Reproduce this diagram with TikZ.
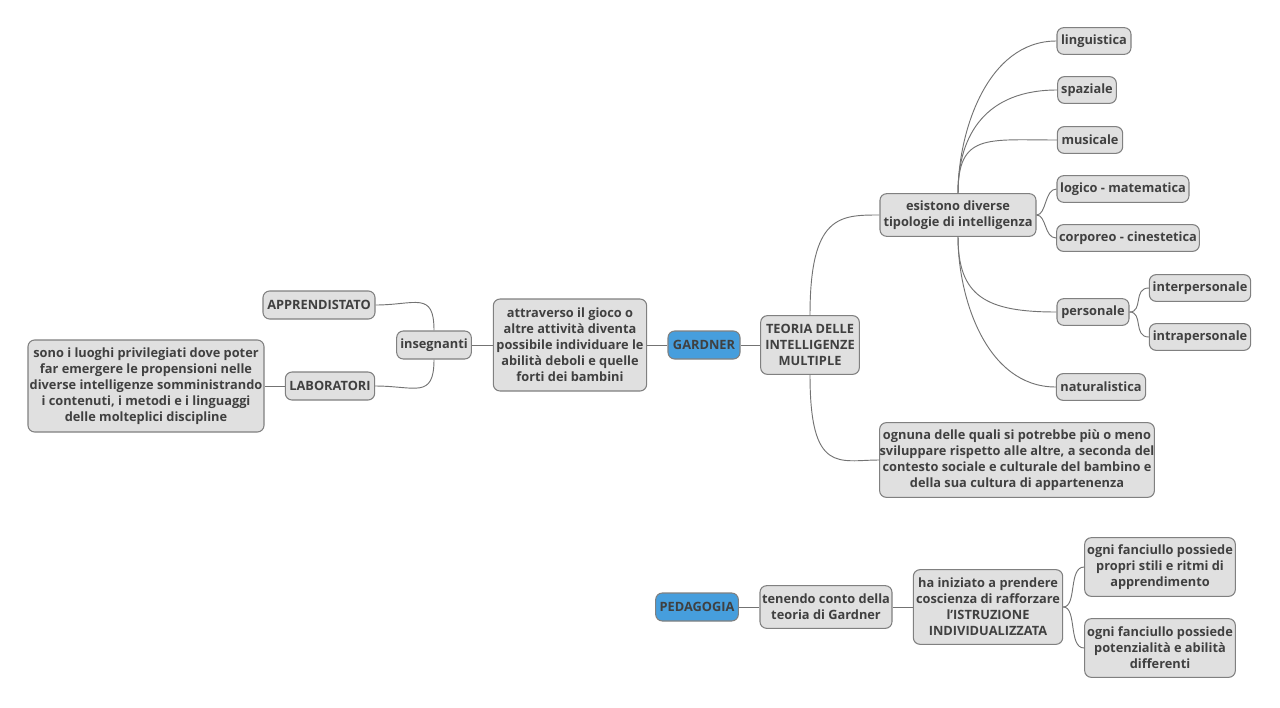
\documentclass[tikz,border=0pt]{standalone}
\usepackage{fontspec}
\setmainfont{Open Sans}
\usetikzlibrary{calc}
\begin{document}
\begin{tikzpicture}[x=0.75pt,y=-0.75pt,
 bx/.style={draw=black!50,fill=black!12,rounded corners=5pt,line width=0.8pt,text=black!75,font=\fontsize{9.6}{12}\selectfont\bfseries,align=center,inner sep=0pt,minimum height=20pt},
 bl/.style={bx,fill=cyan!70!blue!75},
 ln/.style={draw=black!55,line width=0.7pt}]
\useasboundingbox (0,0) rectangle (1280,707);
\node[bx,minimum width=55.5pt] (ling) at (1094,41) {linguistica};
\node[bx,minimum width=44pt] (spaz) at (1087,90) {spaziale};
\node[bx,minimum width=49pt] (mus) at (1090,140) {musicale};
\node[bx,minimum width=99pt] (log) at (1123,189) {logico - matematica};
\node[bx,minimum width=107pt] (corp) at (1128,238) {corporeo - cinestetica};
\node[bx,minimum width=54pt] (pers) at (1093,312) {personale};
\node[bx,minimum width=76pt] (inter) at (1200,288) {interpersonale};
\node[bx,minimum width=76pt] (intra) at (1200,337) {intrapersonale};
\node[bx,minimum width=67pt] (nat) at (1101,387) {naturalistica};
\node[bx,minimum width=117pt,minimum height=32pt] (esi) at (958,215) {esistono diverse\\tipologie di intelligenza};
\node[bx,minimum width=74pt,minimum height=44pt] (teo) at (810,345) {TEORIA DELLE\\INTELLIGENZE\\MULTIPLE};
\node[bx,minimum width=206pt,minimum height=56pt] (ogn) at (1017,460) {ognuna delle quali si potrebbe più o meno\\sviluppare rispetto alle altre, a seconda del\\contesto sociale e culturale del bambino e\\della sua cultura di appartenenza};
\node[bl,minimum width=54pt,minimum height=21pt] (gar) at (704,345) {GARDNER};
\node[bx,minimum width=115pt,minimum height=69pt] (att) at (570,345) {attraverso il gioco o\\altre attività diventa\\possibile individuare le\\abilità deboli e quelle\\forti dei bambini};
\node[bx,minimum width=56pt,minimum height=21pt] (ins) at (434,345) {insegnanti};
\node[bx,minimum width=84pt,minimum height=21pt] (app) at (319,305) {APPRENDISTATO};
\node[bx,minimum width=67pt,minimum height=21pt] (lab) at (330,386) {LABORATORI};
\node[bx,minimum width=177pt,minimum height=69pt] (sono) at (146,386) {sono i luoghi privilegiati dove poter\\far emergere le propensioni nelle\\diverse intelligenze somministrando\\i contenuti, i metodi e i linguaggi\\delle molteplici discipline};
\node[bl,minimum width=62pt,minimum height=21pt] (ped) at (697,607) {PEDAGOGIA};
\node[bx,minimum width=99pt,minimum height=32pt] (ten) at (826,607) {tenendo conto della\\teoria di Gardner};
\node[bx,minimum width=112pt,minimum height=56pt] (ha) at (988,607) {ha iniziato a prendere\\coscienza di rafforzare\\l'ISTRUZIONE\\INDIVIDUALIZZATA};
\node[bx,minimum width=113pt,minimum height=44pt] (f1) at (1160,567) {ogni fanciullo possiede\\propri stili e ritmi di\\apprendimento};
\node[bx,minimum width=113pt,minimum height=44pt] (f2) at (1160,648) {ogni fanciullo possiede\\potenzialità e abilità\\differenti};
% connectors
\foreach \t in {ling,spaz,mus}
 \draw[ln] (esi.north) .. controls +(0,-60) and ($(\t.west)+(-70,0)$) .. (\t.west);
\foreach \t in {pers,nat}
 \draw[ln] (esi.south) .. controls +(0,60) and ($(\t.west)+(-70,0)$) .. (\t.west);
\foreach \t in {log,corp}
 \draw[ln] (esi.east) .. controls +(10,0) and ($(\t.west)+(-12,0)$) .. (\t.west);
\foreach \t in {inter,intra}
 \draw[ln] (pers.east) .. controls +(14,0) and ($(\t.west)+(-16,0)$) .. (\t.west);
\draw[ln] (teo.north) .. controls +(0,-100) and +(-40,0) .. (esi.west);
\draw[ln] (teo.south) .. controls +(0,100) and +(-40,0) .. (ogn.west);
\draw[ln] (gar) -- (teo);
\draw[ln] (gar) -- (att);
\draw[ln] (att) -- (ins);
\draw[ln] (ins.north) .. controls +(0,-40) and +(40,0) .. (app.east);
\draw[ln] (ins.south) .. controls +(0,40) and +(40,0) .. (lab.east);
\draw[ln] (lab) -- (sono);
\draw[ln] (ped) -- (ten);
\draw[ln] (ten) -- (ha);
\draw[ln] (ha.east) .. controls +(14,0) and +(-16,0) .. (f1.west);
\draw[ln] (ha.east) .. controls +(14,0) and +(-16,0) .. (f2.west);
\end{tikzpicture}
\end{document}
